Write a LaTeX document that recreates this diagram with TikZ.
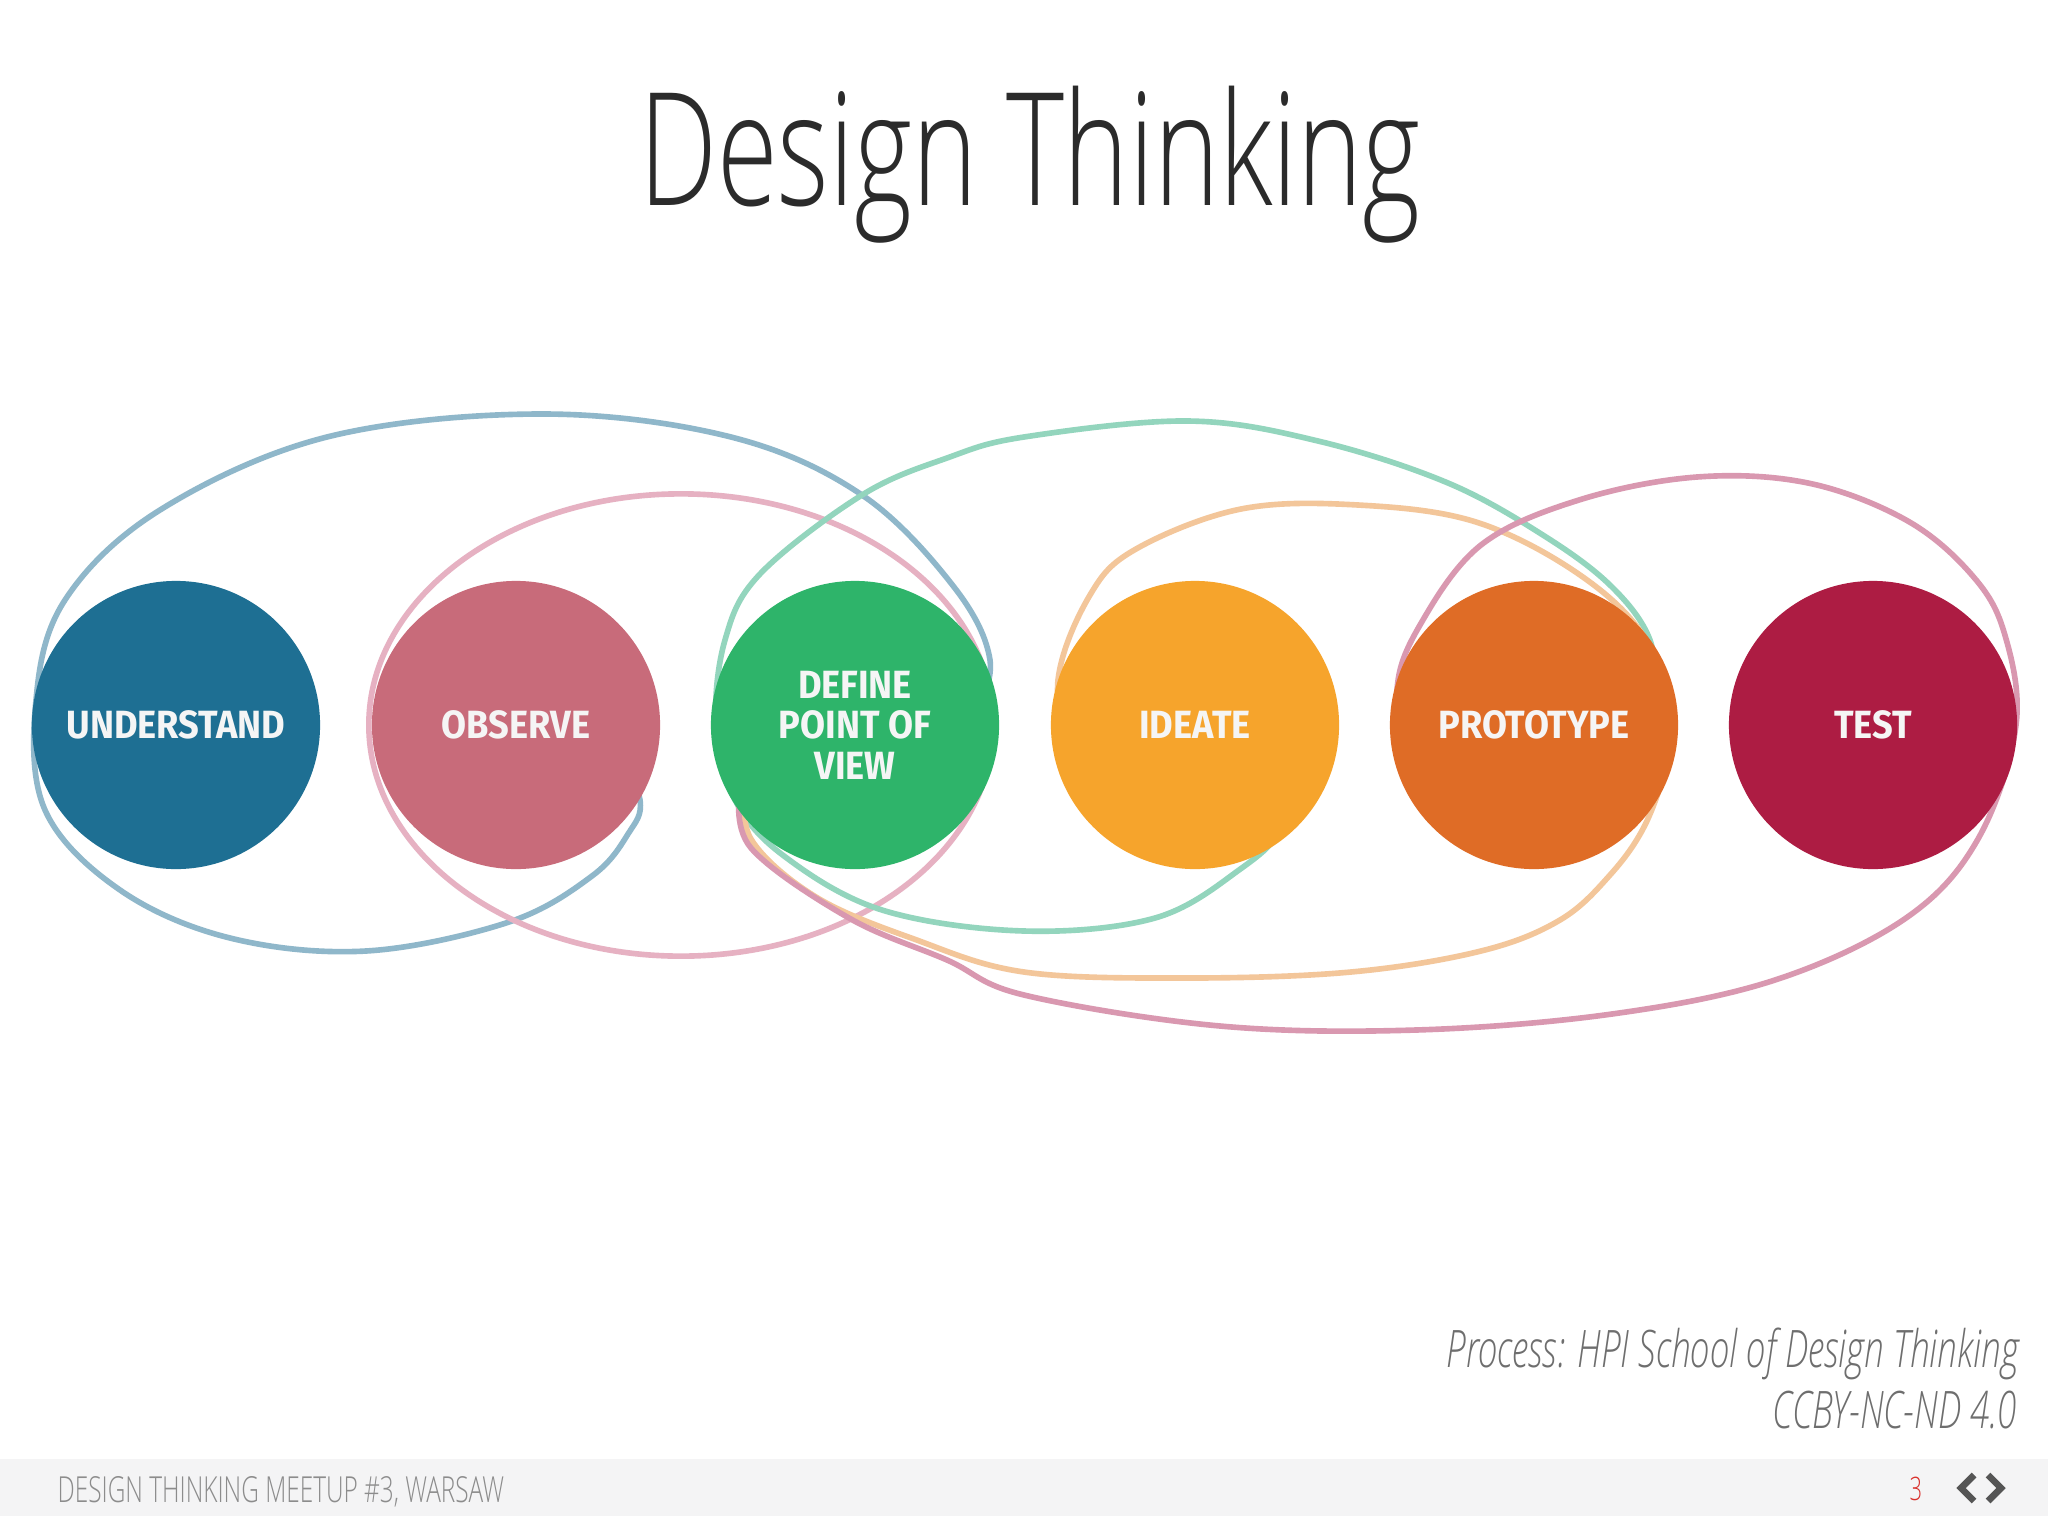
\documentclass[tikz,border=0pt]{standalone}
\usepackage{fontspec}
\newfontfamily\titlefont{Open Sans Light}[FakeStretch=0.703]
\newfontfamily\condfont{Open Sans Light}[FakeStretch=0.68]
\newfontfamily\circfont{Fira Sans}[FakeStretch=0.92]
\definecolor{cU}{HTML}{1E6F93}
\definecolor{cO}{HTML}{C86B7A}
\definecolor{cD}{HTML}{2EB46A}
\definecolor{cI}{HTML}{F6A42C}
\definecolor{cP}{HTML}{DF6C26}
\definecolor{cT}{HTML}{AD1C43}
\definecolor{lBlue}{HTML}{8FB7CA}
\definecolor{lPink}{HTML}{E6B1C2}
\definecolor{lGreen}{HTML}{93D5BD}
\definecolor{lOrange}{HTML}{F3C69A}
\definecolor{lRose}{HTML}{D998B0}
\definecolor{footbg}{HTML}{F4F4F5}
\definecolor{titlecol}{HTML}{2B2B2B}
\definecolor{greytxt}{HTML}{6E6E6E}
\definecolor{foottxt}{HTML}{8C8C8C}
\definecolor{pagered}{HTML}{D9302C}
\definecolor{chev}{HTML}{555555}
\begin{document}
\begin{tikzpicture}[x=0.01cm,y=-0.01cm,
  loop/.style={line width=1.6pt, line cap=round, line join=round},
  stage/.style={circle, minimum size=2.88cm, inner sep=0pt, text=white!96!black,
    font=\circfont\bfseries\fontsize{11.2}{11.5}\selectfont, align=center},
  chevron/.style={line width=1.9pt, chev, line join=miter}]
\useasboundingbox (0,0) rectangle (2048,1536);
\fill[white] (0,0) rectangle (2048,1536);
\fill[footbg] (0,1459) rectangle (2048,1516);

% title
\node[anchor=base, inner sep=0pt, text=titlecol, font=\titlefont\fontsize{44.7}{50}\selectfont] (title) at (1030,205) {Design Thinking};

% loops (behind the circles)
\draw[loop, lBlue] plot[smooth, tension=0.6] coordinates {(975,720) (990,660) (954,587) (862,495) (731,437) (542,414) (327,437) (160,510) (65,600) (36,700) (45,810) (120,890) (230,938) (366,951) (509,922) (592,876) (628,834) (640,800) (615,740)};
\draw[loop, lPink] (681,725) ellipse [x radius=3.12cm, y radius=2.31cm];
\draw[loop, lGreen] plot[smooth, tension=0.6] coordinates {(1255,790) (1278,830) (1239,870) (1155,918) (1024,931) (882,910) (784,856) (735,800) (716,725) (725,640) (760,574) (862,495) (947,458) (1024,437) (1188,421) (1318,441) (1448,483) (1546,537) (1612,587) (1650,640) (1655,700)};
\draw[loop, lOrange] plot[smooth, tension=0.6] coordinates {(1070,770) (1058,680) (1090,595) (1136,549) (1241,509) (1358,505) (1476,522) (1580,575) (1646,640) (1670,725) (1668,760) (1645,825) (1610,875) (1560,920) (1481,951) (1351,972) (1187,978) (1024,972) (914,939) (816,897) (751,839) (745,780)};
\draw[loop, lRose] plot[smooth, tension=0.6] coordinates {(1410,770) (1397,690) (1420,625) (1481,545) (1579,500) (1697,477) (1808,483) (1906,520) (1971,574) (2004,632) (2016,725) (1978,839) (1906,918) (1775,980) (1612,1014) (1416,1030) (1220,1026) (1024,995) (947,960) (849,918) (751,848) (740,790)};

% stages
\node[stage, fill=cU] (u) at (176,725) {UNDERSTAND};
\node[stage, fill=cO] (o) at (516,725) {OBSERVE};
\node[stage, fill=cD] (d) at (855,725) {DEFINE\\POINT OF\\VIEW};
\node[stage, fill=cI] (i) at (1195,725) {IDEATE};
\node[stage, fill=cP] (p) at (1534,725) {PROTOTYPE};
\node[stage, fill=cT] (t) at (1873,725) {TEST};

% credits
\node[anchor=base east, inner sep=0pt, text=greytxt, font=\condfont\itshape\fontsize{14.7}{17}\selectfont] (cred1) at (2020,1367) {Process: HPI School of Design Thinking};
\node[anchor=base east, inner sep=0pt, text=greytxt, font=\condfont\itshape\fontsize{14.7}{17}\selectfont] (cred2) at (2018,1428) {CCBY-NC-ND 4.0};

% footer
\node[anchor=base west, inner sep=0pt, text=foottxt, font=\condfont\fontsize{10.2}{12}\selectfont] (foot) at (57,1502) {DESIGN THINKING MEETUP \#3, WARSAW};
\node[anchor=base, inner sep=0pt, text=pagered, font=\condfont\fontsize{9.2}{11}\selectfont] (page) at (1916,1500) {3};
\draw[chevron] (1974,1475) -- (1961,1488) -- (1974,1501);
\draw[chevron] (1988,1475) -- (2001,1488) -- (1988,1501);
\end{tikzpicture}
\end{document}
